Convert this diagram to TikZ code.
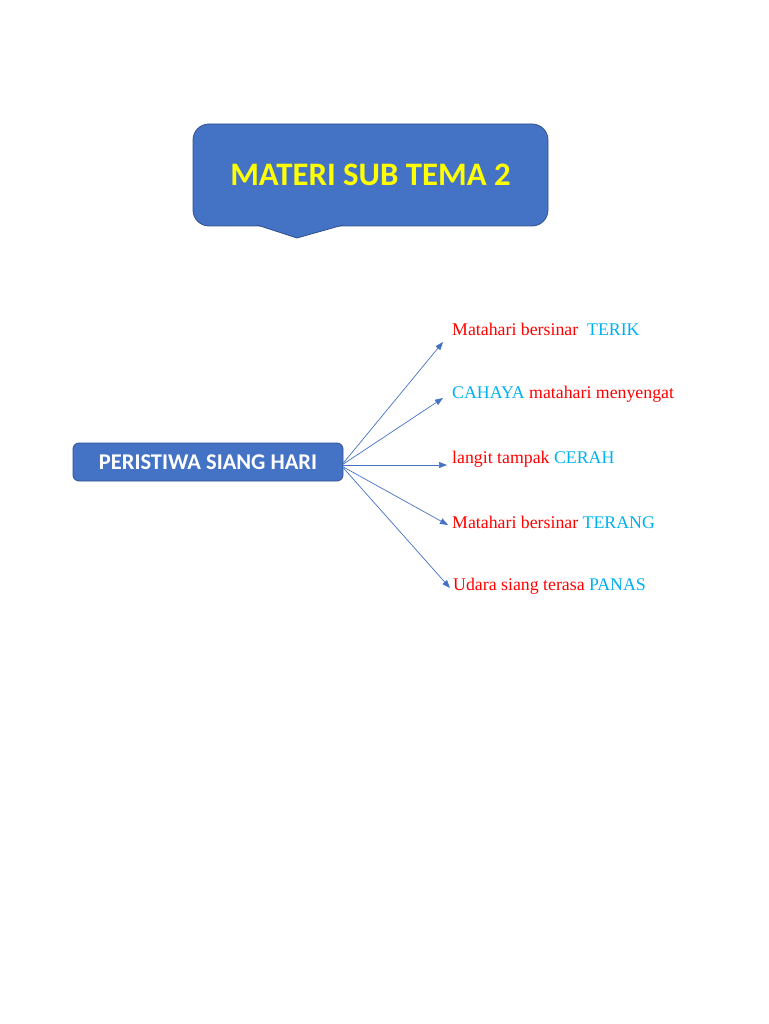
\documentclass[tikz,border=0pt]{standalone}
\usepackage{fontspec}
\setmainfont{Liberation Serif}
\newfontfamily\calibri{Carlito}
\usepackage{tikz}
\usetikzlibrary{arrows.meta,shapes,calc,positioning}
\definecolor{biru}{HTML}{4472C4}
\definecolor{tepi}{HTML}{2F528F}
\definecolor{merah}{HTML}{FF0000}
\definecolor{birumuda}{HTML}{00B0F0}
\definecolor{kuning}{HTML}{FFFF00}

\begin{document}
\begin{tikzpicture}[x=1pt, y=-1pt,
    judul/.style={fill=biru, draw=tepi, line width=0.8pt, rounded corners=16pt,
      minimum width=355pt, minimum height=102pt, text=kuning,
      font=\calibri\bfseries\fontsize{32.8}{36}\selectfont},
    pokok/.style={fill=biru, draw=tepi, line width=0.8pt, rounded corners=6pt,
      minimum width=270pt, minimum height=38pt, text=white,
      font=\calibri\bfseries\fontsize{22.5}{26}\selectfont},
    ciri/.style={anchor=base west, inner sep=0pt, text=merah,
      font=\fontsize{17.8}{20}\selectfont},
    panah/.style={draw=biru, line width=0.7pt, -{Triangle[length=8pt,width=6pt]}}]
    \useasboundingbox (0,0) rectangle (768,1024);

    \node (judul) [judul] at (370.5,175) {MATERI SUB TEMA 2};
    \fill[biru] (257,222) -- (257,225) -- (297,238) -- (343,225) -- (343,222) -- cycle;
    \draw[tepi, line width=0.8pt] (257,225) -- (297,238) -- (343,225);

    \node (peristiwa) [pokok] at (208,462) {PERISTIWA SIANG HARI};

    \node (terik) [ciri] at (452,335) {Matahari bersinar\ \ \textcolor{birumuda}{TERIK}};
    \node (cahaya) [ciri] at (452,398) {\textcolor{birumuda}{CAHAYA} matahari menyengat};
    \node (cerah) [ciri] at (452,463) {langit tampak \textcolor{birumuda}{CERAH}};
    \node (terang) [ciri] at (452,528) {Matahari bersinar \textcolor{birumuda}{TERANG}};
    \node (panas) [ciri] at (453,590) {Udara siang terasa \textcolor{birumuda}{PANAS}};

    \draw[panah] ([yshift=-1pt]peristiwa.east) -- ([shift={(-9,7)}]terik.base west);
    \draw[panah] ([yshift=-2pt]peristiwa.east) -- ([shift={(-9,0)}]cahaya.base west);
    \draw[panah] ([yshift=-3pt]peristiwa.east) -- ([shift={(-5,2)}]cerah.base west);
    \draw[panah] ([yshift=-5pt]peristiwa.east) -- ([shift={(-4,-3)}]terang.base west);
    \draw[panah] ([yshift=-6pt]peristiwa.east) -- ([shift={(-3,-2)}]panas.base west);
  \end{tikzpicture}
\end{document}
